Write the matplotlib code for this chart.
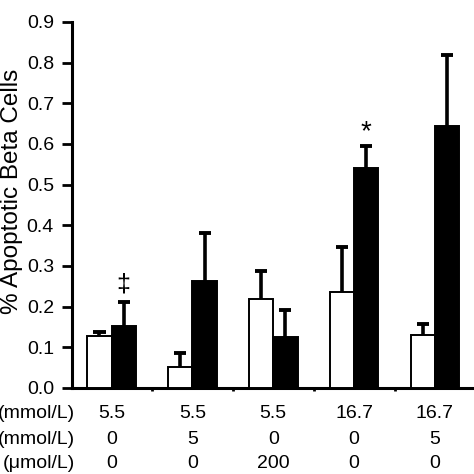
import numpy as np
import matplotlib
matplotlib.use('Agg')
from matplotlib import pyplot as plt

plt.rcParams['font.family'] = ['Liberation Sans', 'DejaVu Sans']

# data
glucose = ['5.5', '5.5', '5.5', '16.7', '16.7']
second = ['0', '5', '0', '0', '5']
third = ['0', '0', '200', '0', '0']
row_units = ['(mmol/L)', '(mmol/L)', '(\u03bcmol/L)']

white_vals = np.array([0.129, 0.052, 0.220, 0.237, 0.130])
white_err = np.array([0.009, 0.033, 0.068, 0.110, 0.027])
black_vals = np.array([0.153, 0.263, 0.126, 0.540, 0.645])
black_err = np.array([0.059, 0.117, 0.066, 0.056, 0.174])

marks = {0: '\u2021', 3: '*'}

W, H = 474, 474
fig = plt.figure(figsize=(W / 100, H / 100), dpi=100)
ax = fig.add_axes([72 / W, (H - 388) / H, 1 - 72 / W + 0.02, 366 / H])

x = np.arange(len(glucose))
bw = 0.30
cap = 0.075


def upper_err(ax, xc, vals, errs):
    # only the upper half of the error bar, as in the original
    ax.vlines(xc, vals, vals + errs, color='k', lw=2.6, zorder=2)
    ax.hlines(vals + errs, xc - cap, xc + cap, color='k', lw=2.8, zorder=2)


ax.bar(x - bw / 2, white_vals, bw, color='white', edgecolor='k', linewidth=1.4,
       zorder=3)
ax.bar(x + bw / 2, black_vals, bw, color='black', edgecolor='k', linewidth=1.4,
       zorder=3)
upper_err(ax, x - bw / 2, white_vals, white_err)
upper_err(ax, x + bw / 2, black_vals, black_err)

for i, m in marks.items():
    top = black_vals[i] + black_err[i]
    fs = 20 if m == '*' else 18
    off = 0.0 if m == '*' else 0.012
    ax.text(x[i] + bw / 2, top + off, m, ha='center', va='bottom', fontsize=fs)

ax.set_xlim(-0.49, 4.6)
ax.set_ylim(0, 0.9)
ax.set_yticks(np.arange(0, 0.91, 0.1))
ax.set_yticklabels(['{:.1f}'.format(v) for v in np.arange(0, 0.91, 0.1)])
ax.set_xticks(x[:-1] + 0.5)
ax.set_xticklabels([])
ax.tick_params(axis='x', direction='out', length=2.5, width=2)
ax.tick_params(axis='y', direction='out', length=7, width=2, pad=6, labelsize=14)
for s in ['top', 'right']:
    ax.spines[s].set_visible(False)
for s in ['left', 'bottom']:
    ax.spines[s].set_linewidth(2.2)

fig.text(12 / W, 1 - 191 / H, '% Apoptotic Beta Cells', rotation=90,
         ha='center', va='center', fontsize=17.5)

# table below the axis
row_y = [413, 440, 463]
rows = [glucose, second, third]
for ry, vals, unit in zip(row_y, rows, row_units):
    yf = 1 - ry / H
    fig.text(75 / W, yf, unit, ha='right', va='center', fontsize=14)
    for xi, v in zip(x, vals):
        xd = ax.transData.transform((xi, 0))[0]
        fig.text(xd / W, yf, v, ha='center', va='center', fontsize=14)

fig.savefig('out.png', dpi=100)
